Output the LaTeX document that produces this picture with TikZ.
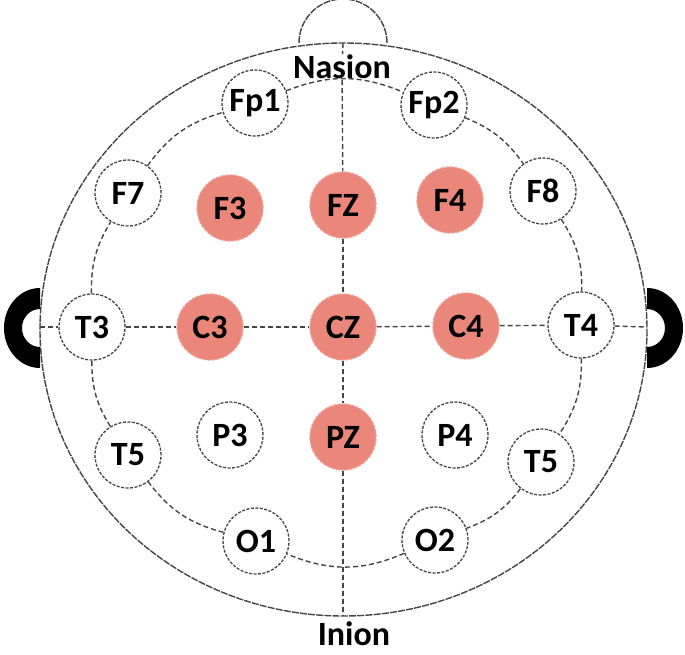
\documentclass[tikz,border=0pt]{standalone}
\usepackage{fontspec}
\setmainfont{Carlito}
\usetikzlibrary{backgrounds}
\definecolor{linegray}{HTML}{454545}
\definecolor{elecred}{RGB}{234,134,122}
\begin{document}
\begin{tikzpicture}[x=1pt,y=-1pt,
  elec/.style={circle, minimum size=66pt, inner sep=0pt, draw=linegray,
    dash pattern=on 3pt off 1.5pt, line width=1.3pt, fill=white,
    font=\fontsize{34}{38}\selectfont\bfseries},
  act/.style={elec, fill=elecred, draw=elecred!80!white},
  lab/.style={inner sep=1pt, text depth=0pt, font=\fontsize{34}{38}\selectfont\bfseries},
  guide/.style={draw=linegray, line width=1.4pt, dash pattern=on 5pt off 3pt},
  headline/.style={draw=linegray, line width=1.4pt, dash pattern=on 7pt off 1.2pt},
]
\useasboundingbox (0,0) rectangle (685,655);
% head outline, nose, ears
\draw[headline] (343.5,329.5) ellipse [x radius=303.5, y radius=286.5];
\draw[headline] (299,43) arc[start angle=180, end angle=360, radius=44];
\fill (40,288) arc[start angle=270, end angle=90, x radius=36, y radius=40]
  -- (40,347) arc[start angle=90, end angle=270, x radius=18, y radius=19] -- cycle;
\fill (647,288) arc[start angle=270, end angle=450, x radius=36, y radius=40]
  -- (647,347) arc[start angle=90, end angle=-90, x radius=18, y radius=19] -- cycle;
% free ends
\coordinate (vt) at (343,43);
\coordinate (vb) at (343,616);
\coordinate (hl) at (40,327);
\coordinate (hr) at (647,327);
% labels
\node[lab] (nasion) at (342,67) {Nasion};
\node[lab] (inion) at (354,634) {Inion};
% electrodes
\node[elec] (Fp1) at (255,103) {Fp1};
\node[elec] (Fp2) at (434,105) {Fp2};
\node[elec] (F7) at (128,193) {F7};
\node[act]  (F3) at (230,208) {F3};
\node[act]  (FZ) at (343,205) {FZ};
\node[act]  (F4) at (450,200) {F4};
\node[elec] (F8) at (543,191) {F8};
\node[elec] (T3) at (92,327) {T3};
\node[act]  (C3) at (210,327) {C3};
\node[act]  (CZ) at (343,327) {CZ};
\node[act]  (C4) at (466,326) {C4};
\node[elec] (T4) at (581,325) {T4};
\node[elec] (T5l) at (128,455) {T5};
\node[elec] (P3) at (230,435) {P3};
\node[act]  (PZ) at (343,437) {PZ};
\node[elec] (P4) at (455,435) {P4};
\node[elec] (T5r) at (541,462) {T5};
\node[elec] (O1) at (256,541) {O1};
\node[elec] (O2) at (435,540) {O2};
% connectors
\begin{scope}[on background layer]
\draw[guide] (vt) -- (nasion);
\draw[guide] (nasion) -- (FZ);
\draw[guide] (FZ) -- (CZ);
\draw[guide] (CZ) -- (PZ);
\draw[guide] (PZ) -- (vb);
\draw[guide] (hl) -- (T3);
\draw[guide] (T3) -- (C3);
\draw[guide] (C3) -- (CZ);
\draw[guide] (CZ) -- (C4);
\draw[guide] (C4) -- (T4);
\draw[guide] (T4) -- (hr);
\draw[guide] (Fp1) to[bend left=22] (Fp2);
\draw[guide] (Fp2) to[bend left=16] (F8);
\draw[guide] (F8) to[bend left=17] (T4);
\draw[guide] (T4) to[bend left=17] (T5r);
\draw[guide] (T5r) to[bend left=16] (O2);
\draw[guide] (O2) to[bend left=23] (O1);
\draw[guide] (O1) to[bend left=19] (T5l);
\draw[guide] (T5l) to[bend left=16] (T3);
\draw[guide] (T3) to[bend left=16] (F7);
\draw[guide] (F7) to[bend left=19] (Fp1);
\end{scope}
\end{tikzpicture}
\end{document}
